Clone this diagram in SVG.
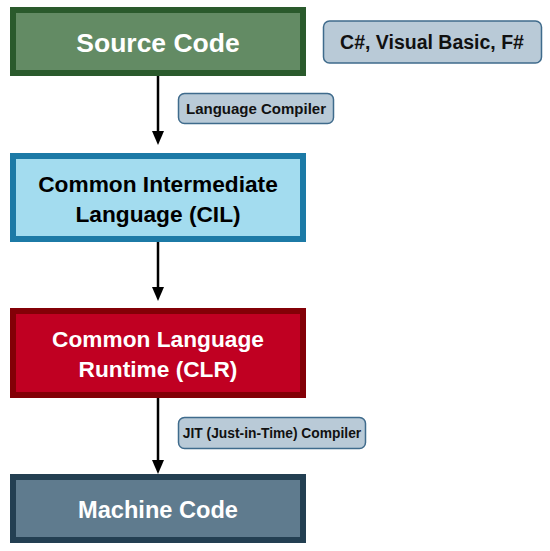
<svg xmlns="http://www.w3.org/2000/svg" width="550" height="551" viewBox="0 0 550 551">
<defs>
<style>
.box{stroke-width:6}
.t{font-family:"Liberation Sans",Arial,sans-serif;font-weight:bold;text-anchor:middle}
.lbl{fill:#b9cad7;stroke:#3f6b8c;stroke-width:1.5}
.edge{stroke:#000;stroke-width:2.5;fill:none}
</style>
</defs>
<rect width="550" height="551" fill="#fff"/>
<g id="connectors">
<line class="edge" x1="158" y1="76" x2="158" y2="131"/>
<path d="M152,131 L164,131 L158,145 Z"/>
<line class="edge" x1="158" y1="242" x2="158" y2="287"/>
<path d="M152,287 L164,287 L158,301 Z"/>
<line class="edge" x1="158" y1="398" x2="158" y2="460"/>
<path d="M152,460 L164,460 L158,474 Z"/>
</g>
<g id="source">
<rect class="box" x="13" y="10" width="290" height="63" fill="#638b64" stroke="#2a5a2c"/>
<text class="t" x="158" y="52" font-size="26.5" fill="#fff">Source Code</text>
</g>
<g id="languages">
<rect class="lbl" x="323.5" y="21" width="218" height="42" rx="6"/>
<text class="t" x="432" y="48.5" font-size="19.5" fill="#111">C#, Visual Basic, F#</text>
</g>
<g id="lang-compiler">
<rect class="lbl" x="178.5" y="93.5" width="155" height="30" rx="6"/>
<text class="t" x="256" y="114" font-size="15" fill="#111">Language Compiler</text>
</g>
<g id="cil">
<rect class="box" x="13" y="156" width="290" height="83" fill="#a3dcef" stroke="#1c7aa6"/>
<text class="t" x="158" y="192" font-size="22.7" fill="#000">Common Intermediate</text>
<text class="t" x="158" y="222" font-size="22.7" fill="#000">Language (CIL)</text>
</g>
<g id="clr">
<rect class="box" x="13" y="311" width="290" height="84" fill="#c00022" stroke="#830007"/>
<text class="t" x="158" y="347" font-size="22.7" fill="#fff">Common Language</text>
<text class="t" x="158" y="377" font-size="22.7" fill="#fff">Runtime (CLR)</text>
</g>
<g id="jit">
<rect class="lbl" x="178.5" y="417.5" width="187" height="31" rx="6"/>
<text class="t" x="272" y="438" font-size="13.8" fill="#111">JIT (Just-in-Time) Compiler</text>
</g>
<g id="machine">
<rect class="box" x="13" y="477" width="290" height="63" fill="#5f7b8e" stroke="#233f52"/>
<text class="t" x="158" y="517.5" font-size="23.6" fill="#fff">Machine Code</text>
</g>
</svg>
